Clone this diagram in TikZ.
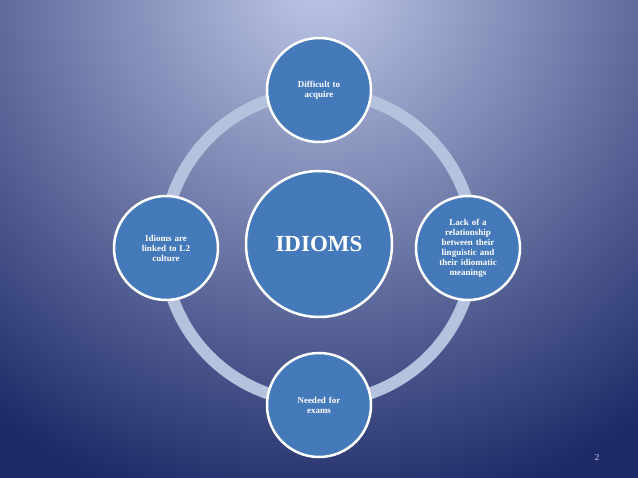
\documentclass[tikz,border=0pt]{standalone}
\usepackage{fontspec}
\setmainfont{Liberation Serif}
\begin{document}
\begin{tikzpicture}[x=1pt,y=-1pt,
  bub/.style={circle,draw=white,line width=2.5pt,fill=cblue,text=white,font=\bfseries\fontsize{9}{10}\selectfont,align=center,text width=66pt,inner sep=0pt}]
\definecolor{cblue}{HTML}{4479BA}
\definecolor{ringc}{HTML}{B4C2DE}
\definecolor{bgout}{HTML}{1E2B68}
\useasboundingbox (0,0) rectangle (638,478);
\begin{scope}
\clip (0,0) rectangle (638,478);
\fill[bgout] (0,0) rectangle (638,478);
\shade[inner color={rgb,255:red,190;green,200;blue,232}, outer color=bgout] (319,-20) circle (540);
\end{scope}
\draw[ringc,line width=12pt] (319,247) circle (155);
\node[bub,minimum size=146pt,font=\bfseries\fontsize{23}{25}\selectfont,text width=120pt] (c) at (319,244) {IDIOMS};
\node[bub,minimum size=104pt] (t) at (319,90) {Difficult to\\acquire\\[22pt]};
\node[bub,minimum size=104pt] (r) at (468,248) {Lack of a\\relationship\\between their\\linguistic and\\their idiomatic\\meanings};
\node[bub,minimum size=104pt] (b) at (319,405) {Needed for\\exams\\[22pt]};
\node[bub,minimum size=104pt] (l) at (166,248) {Idioms are\\linked to L2\\culture\\[10pt]};
\node[text=white!85!blue,font=\fontsize{9}{10}\selectfont] (p) at (597,458) {2};
\end{tikzpicture}
\end{document}
